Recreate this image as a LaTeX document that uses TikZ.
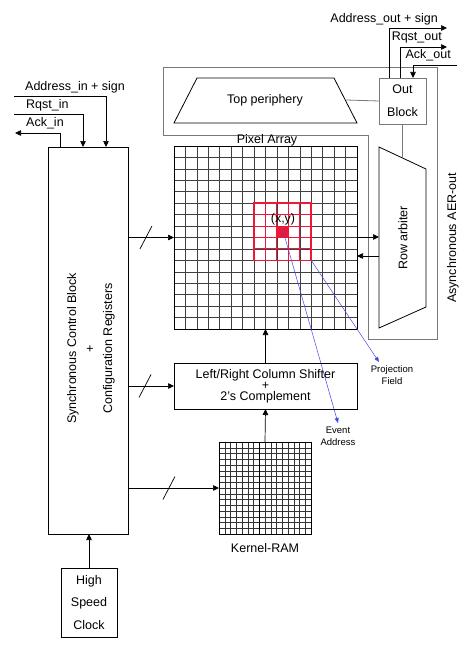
\documentclass[tikz,border=0pt]{standalone}
\usepackage{fontspec}
\setmainfont{Liberation Sans}
\usetikzlibrary{arrows.meta,calc}
\definecolor{aergray}{RGB}{120,120,120}
\definecolor{fieldred}{RGB}{235,25,55}
\definecolor{evblue}{RGB}{70,70,225}
\tikzset{
  box/.style={draw, line width=0.9pt, inner sep=0pt, outer sep=0pt},
  arr/.style={-{Triangle[length=6pt,width=5.5pt]}, line width=0.7pt},
  lbl/.style={font=\fontsize{12.5}{14}\selectfont, inner sep=0pt},
  small/.style={font=\fontsize{9.5}{12}\selectfont, inner sep=0pt, align=center},
  gridline/.style={line width=0.6pt, black!75},
}
\newcommand{\busslash}[1]{\draw[line width=0.7pt] (#1) ++(-6,11.5) -- ++(12,-23);}

\begin{document}
\begin{tikzpicture}[x=1pt,y=-1pt]
    \useasboundingbox (0,0) rectangle (474,661);
    % asynchronous AER-out part
    \draw[aergray, line width=0.8pt] (163,67) -- (437,67) -- (437,339) -- (368,339) -- (368,135) -- (163,135) -- cycle;
    \node[lbl, rotate=90] (aer) at (453,238) {Asynchronous AER-out};
    \draw[line width=0.8pt] (197,78) -- (334,78) -- (357,123) -- (174,123) -- cycle;
    \node[lbl] (top) at (265,100) {Top periphery};
    \coordinate (topE) at (346,100);
    \node[box, draw=aergray, minimum width=47, minimum height=46, align=center,
          font=\fontsize{12.5}{23}\selectfont] (out) at (402.5,101) {Out\\Block};
    \draw[aergray, line width=0.8pt] (topE) -- (out.west);
    \draw[line width=0.8pt] (379,147) -- (426,169) -- (426,307) -- (379,328) -- cycle;
    \node[lbl, rotate=90] (ra) at (403,238) {Row arbiter};
    \coordinate (raTop) at (402.5,158);
    \draw[aergray, line width=0.8pt] (out.south) -- (raTop);

    % outputs
    \coordinate (aout) at (447,28);
    \coordinate (rout) at (447,47);
    \coordinate (ackout) at (457,65);
    \draw[arr] ($(out.north west)+(10,0)$) |- (aout);
    \draw[arr] ($(out.north west)+(21,0)$) |- (rout);
    \draw[arr] (ackout) -| ($(out.north west)+(34,0)$);
    \node[lbl, anchor=east] at (438,19) {Address\_out + sign};
    \node[lbl, anchor=east] at (442,37) {Rqst\_out};
    \node[lbl, anchor=east] at (451,55) {Ack\_out};

    % pixel array
    \node[box, minimum width=183, minimum height=183] (pix) at (265.5,237.5) {};
    \begin{scope}[shift={(pix.north west)}, x=11.4375pt, y=-11.4375pt]
        \foreach \i in {1,...,15} {
            \draw[gridline] (\i,0) -- (\i,16);
            \draw[gridline] (0,\i) -- (16,\i);
        }
        \draw[line width=0.9pt] (0,0) rectangle (16,16);
        % projection field
        \foreach \i in {8,...,11} \draw[fieldred, line width=0.9pt] (\i,5) -- (\i,10);
        \foreach \i in {6,...,9} \draw[fieldred, line width=0.9pt] (7,\i) -- (12,\i);
        \draw[fieldred, line width=1.6pt] (7,5) rectangle (12,10);
        \fill[fieldred] (9,7) rectangle (10,8);
        \coordinate (xy) at (9.5,7.3);
        \coordinate (pfSE) at (12,10);
    \end{scope}
    \node[lbl] at (267,140) {Pixel Array};
    \node[lbl] at (283,219) {(x,y)};
    \node[small] (pfield) at (392,375) {Projection\\Field};
    \node[small] (evaddr) at (338,436) {Event\\Address};
    \draw[evblue, line width=0.5pt, -{Triangle[length=5pt,width=4pt]}] (xy) -- (338,423);
    \draw[evblue, line width=0.5pt, -{Triangle[length=5pt,width=4pt]}] (pfSE) -- (379,362);

    % pixel array <-> row arbiter
    \coordinate (ra1) at (379,237);
    \coordinate (ra2) at (379,256);
    \draw[arr] (pix.east |- ra1) -- (ra1);
    \draw[arr] (ra2) -- (pix.east |- ra2);

    % column shifter and kernel
    \node[box, minimum width=183, minimum height=46, align=center,
          font=\fontsize{12.5}{11}\selectfont] (cs) at (265.5,386) {Left/Right Column Shifter\\+\\2's Complement};
    \draw[arr] (cs.north) -- (pix.south);
    \node[box, minimum width=92, minimum height=92] (kr) at (265,488) {};
    \begin{scope}[shift={(kr.north west)}, x=5.75pt, y=-5.75pt]
        \foreach \i in {1,...,15} {
            \draw[line width=0.45pt, black!80] (\i,0) -- (\i,16);
            \draw[line width=0.45pt, black!80] (0,\i) -- (16,\i);
        }
        \draw[line width=0.9pt] (7,0) -- (7,16);
        \draw[line width=0.8pt] (0,0) rectangle (16,16);
    \end{scope}
    \node[lbl] at (265,548) {Kernel-RAM};
    \draw[arr] (kr.north) -- (cs.south);

    % synchronous control block
    \node[box, minimum width=80, minimum height=387] (ctrl) at (88,340.5) {};
    \node[rotate=90, align=center, inner sep=0pt, font=\fontsize{12.5}{18}\selectfont]
        at ($(ctrl.center)+(3,8)$) {Synchronous Control Block\\+\\Configuration Registers};
    \draw[arr] (ctrl.east |- pix.west) -- coordinate[pos=.39] (bus1) (pix.west);
    \draw[arr] (ctrl.east |- cs.west) -- coordinate[pos=.37] (bus2) (cs.west);
    \draw[arr] (ctrl.east |- kr.west) -- coordinate[pos=.45] (bus3) (kr.west);
    \busslash{bus1}
    \busslash{bus2}
    \busslash{bus3}

    % inputs
    \coordinate (ain) at (14,96);
    \coordinate (rin) at (14,114);
    \coordinate (ackin) at (15,133);
    \draw[arr] (ain) -| ($(ctrl.north west)+(58,0)$);
    \draw[arr] (rin) -| ($(ctrl.north west)+(35,0)$);
    \draw[arr] ($(ctrl.north west)+(12,0)$) |- (ackin);
    \node[lbl, anchor=west] at (25,87) {Address\_in + sign};
    \node[lbl, anchor=west] at (26,105) {Rqst\_in};
    \node[lbl, anchor=west] at (26,123) {Ack\_in};

    % clock
    \node[box, minimum width=56, minimum height=69, align=center,
          font=\fontsize{12.5}{22.5}\selectfont] (clk) at (89,602.5) {High\\Speed\\Clock};
    \draw[arr] (clk.north) -- (clk.north |- ctrl.south);
\end{tikzpicture}
\end{document}
